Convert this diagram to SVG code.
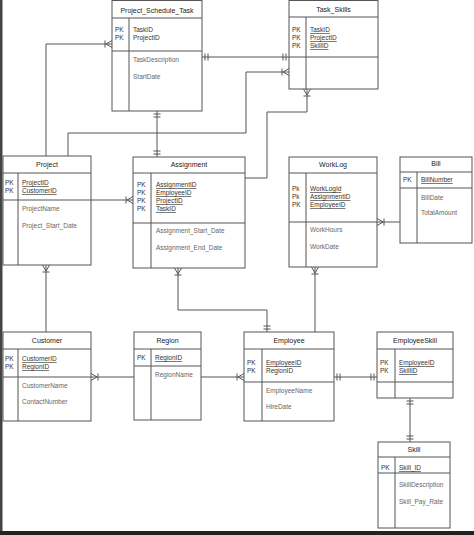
<svg xmlns="http://www.w3.org/2000/svg" width="474" height="535" viewBox="0 0 474 535">
<style>
.box{fill:#fff;stroke:#555;stroke-width:1}
.ln{stroke:#555;stroke-width:1;fill:none}
.con{stroke:#555;stroke-width:1;fill:none}
.t{font-family:"Liberation Sans",Arial,sans-serif;font-size:7px;fill:#222;text-anchor:middle}
.f{font-family:"Liberation Sans",Arial,sans-serif;font-size:6.5px;fill:#333}
.a{font-family:"Liberation Sans",Arial,sans-serif;font-size:6.5px;fill:#666}
.u{text-decoration:underline}
</style>
<defs>
<marker id="many" markerUnits="userSpaceOnUse" markerWidth="10" markerHeight="10" viewBox="0 0 10 10" refX="10" refY="5" orient="auto-start-reverse">
<path d="M4,5 L10,1.5 M4,5 L10,8.5 M3,1.5 V8.5" stroke="#555" stroke-width="1" fill="none"/>
</marker>
<marker id="one" markerUnits="userSpaceOnUse" markerWidth="10" markerHeight="10" viewBox="0 0 10 10" refX="10" refY="5" orient="auto-start-reverse">
<path d="M4,1.5 V8.5 M7,1.5 V8.5" stroke="#555" stroke-width="1" fill="none"/>
</marker>
</defs>
<rect x="0" y="0" width="474" height="535" fill="#fff"/>
<rect x="0" y="0" width="2.5" height="535" fill="#444"/>
<rect x="0" y="531" width="474" height="4" fill="#222"/>

<g id="connectors">
<path class="con" d="M202,57 H289" marker-start="url(#one)" marker-end="url(#one)"/>
<path class="con" d="M46,156 V44 H112" marker-end="url(#many)"/>
<path class="con" d="M68,156 V133 H246 V72 H289" marker-end="url(#many)"/>
<path class="con" d="M157,111 V157" marker-start="url(#one)" marker-end="url(#one)"/>
<path class="con" d="M245,178 H267 V112 H307 V89" marker-end="url(#many)"/>
<path class="con" d="M91,200 H133" marker-end="url(#many)"/>
<path class="con" d="M46,332 V265" marker-end="url(#many)"/>
<path class="con" d="M134,377 H91" marker-end="url(#many)"/>
<path class="con" d="M201,377 H244" marker-end="url(#many)"/>
<path class="con" d="M178,268 V310 H267 V332" marker-start="url(#many)" marker-end="url(#one)"/>
<path class="con" d="M315,332 V267" marker-end="url(#many)"/>
<path class="con" d="M400,222 H377" marker-end="url(#many)"/>
<path class="con" d="M334,377 H377" marker-start="url(#one)" marker-end="url(#one)"/>
<path class="con" d="M410,398 V442" marker-start="url(#one)" marker-end="url(#one)"/>
</g>

<g id="Project_Schedule_Task">
<rect class="box" x="112" y="0.5" width="90" height="110.5"/>
<path class="ln" d="M112,18 H202 M112,51 H202 M129,18 V111"/>
<text class="t" x="157" y="12.5">Project_Schedule_Task</text>
<text class="f" x="115" y="32">PK</text><text class="f" x="115" y="40">PK</text>
<text class="f" x="133" y="32">TaskID</text><text class="f" x="133" y="40">ProjectID</text>
<text class="a" x="133" y="62">TaskDescription</text>
<text class="a" x="133" y="79">StartDate</text>
</g>

<g id="Task_Skills">
<rect class="box" x="289" y="0.5" width="89" height="88.5"/>
<path class="ln" d="M289,17 H378 M289,57 H378 M306,17 V89"/>
<text class="t" x="333.5" y="12">Task_Skills</text>
<text class="f" x="292" y="32">PK</text><text class="f" x="292" y="40">PK</text><text class="f" x="292" y="48">PK</text>
<text class="f u" x="310" y="32">TaskID</text><text class="f u" x="310" y="40">ProjectID</text><text class="f u" x="310" y="48">SkillID</text>
</g>

<g id="Project">
<rect class="box" x="3" y="156" width="88" height="109"/>
<path class="ln" d="M3,173 H91 M3,200 H91 M18,173 V265"/>
<text class="t" x="47" y="167">Project</text>
<text class="f" x="5" y="185">PK</text><text class="f" x="5" y="193">PK</text>
<text class="f u" x="22" y="185">ProjectID</text><text class="f u" x="22" y="193">CustomerID</text>
<text class="a" x="22" y="211">ProjectName</text>
<text class="a" x="22" y="228">Project_Start_Date</text>
</g>

<g id="Assignment">
<rect class="box" x="133" y="157" width="112" height="111"/>
<path class="ln" d="M133,173 H245 M133,223 H245 M151,173 V268"/>
<text class="t" x="189" y="167">Assignment</text>
<text class="f" x="137" y="187">PK</text><text class="f" x="137" y="195">PK</text><text class="f" x="137" y="203">PK</text><text class="f" x="137" y="211">PK</text>
<text class="f u" x="156" y="187">AssignmentID</text><text class="f u" x="156" y="195">EmployeeID</text><text class="f u" x="156" y="203">ProjectID</text><text class="f u" x="156" y="211">TaskID</text>
<text class="a" x="156" y="233">Assignment_Start_Date</text>
<text class="a" x="156" y="250">Assignment_End_Date</text>
</g>

<g id="WorkLog">
<rect class="box" x="289" y="157" width="88" height="110"/>
<path class="ln" d="M289,173 H377 M289,222 H377 M306,173 V267"/>
<text class="t" x="333" y="167">WorkLog</text>
<text class="f" x="292" y="191">Pk</text><text class="f" x="292" y="199">Pk</text><text class="f" x="292" y="207">PK</text>
<text class="f u" x="310" y="191">WorkLogId</text><text class="f u" x="310" y="199">AssignmentID</text><text class="f u" x="310" y="207">EmployeeID</text>
<text class="a" x="310" y="232">WorkHours</text>
<text class="a" x="310" y="249">WorkDate</text>
</g>

<g id="Bill">
<rect class="box" x="400" y="157" width="72" height="86"/>
<path class="ln" d="M400,172 H472 M400,188 H472 M417,172 V243"/>
<text class="t" x="436" y="166">Bill</text>
<text class="f" x="403" y="182">PK</text>
<text class="f u" x="421" y="182">BillNumber</text>
<text class="a" x="421" y="200">BillDate</text>
<text class="a" x="421" y="215">TotalAmount</text>
</g>

<g id="Customer">
<rect class="box" x="3" y="332" width="88" height="89"/>
<path class="ln" d="M3,349 H91 M3,377 H91 M18,349 V421"/>
<text class="t" x="47" y="343">Customer</text>
<text class="f" x="5" y="361">PK</text><text class="f" x="5" y="369">PK</text>
<text class="f u" x="22" y="361">CustomerID</text><text class="f u" x="22" y="369">RegionID</text>
<text class="a" x="22" y="388">CustomerName</text>
<text class="a" x="22" y="404">ContactNumber</text>
</g>

<g id="Region">
<rect class="box" x="134" y="332" width="67" height="88"/>
<path class="ln" d="M134,349 H201 M134,366 H201 M151,349 V420"/>
<text class="t" x="167.5" y="343">Region</text>
<text class="f" x="137" y="360">PK</text>
<text class="f u" x="155" y="360">RegionID</text>
<text class="a" x="155" y="377">RegionName</text>
</g>

<g id="Employee">
<rect class="box" x="244" y="332" width="90" height="89"/>
<path class="ln" d="M244,349 H334 M244,382 H334 M262,349 V421"/>
<text class="t" x="289" y="343">Employee</text>
<text class="f" x="247" y="365">PK</text><text class="f" x="247" y="373">PK</text>
<text class="f u" x="266" y="365">EmployeeID</text><text class="f" x="266" y="373">RegionID</text>
<text class="a" x="266" y="393">EmployeeName</text>
<text class="a" x="266" y="409">HireDate</text>
</g>

<g id="EmployeeSkill">
<rect class="box" x="377" y="332" width="76" height="66"/>
<path class="ln" d="M377,349 H453 M377,382 H453 M395,349 V398"/>
<text class="t" x="415" y="343">EmployeeSkill</text>
<text class="f" x="380" y="365">PK</text><text class="f" x="380" y="373">PK</text>
<text class="f u" x="399" y="365">EmployeeID</text><text class="f u" x="399" y="373">SkillID</text>
</g>

<g id="Skill">
<rect class="box" x="378" y="442" width="72" height="86"/>
<path class="ln" d="M378,457 H450 M378,473 H450 M395,457 V528"/>
<text class="t" x="414" y="452">Skill</text>
<text class="f" x="381" y="470">PK</text>
<text class="f u" x="399" y="470">Skill_ID</text>
<text class="a" x="399" y="487">SkillDescription</text>
<text class="a" x="399" y="504">Skill_Pay_Rate</text>
</g>
</svg>
